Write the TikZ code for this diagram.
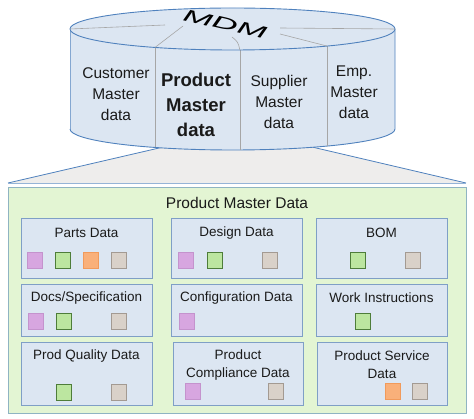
\documentclass[tikz,border=0pt]{standalone}
\usepackage{fontspec}
\setmainfont{Liberation Sans}
\usetikzlibrary{calc}
\definecolor{cylfill}{HTML}{DCE6F2}
\definecolor{cylline}{HTML}{4F81BD}
\definecolor{divcol}{HTML}{A6A6A6}
\definecolor{trapfill}{HTML}{EEEDEC}
\definecolor{pmdfill}{HTML}{E3F5D3}
\definecolor{pmdline}{HTML}{8FB4C2}
\definecolor{boxfill}{HTML}{DCE6F2}
\definecolor{boxline}{HTML}{7F9FC6}
\definecolor{sqpurple}{HTML}{D7A6E0}
\definecolor{sqpurpleb}{HTML}{C493CD}
\definecolor{sqgreen}{HTML}{BCE6A0}
\definecolor{sqgreenb}{HTML}{4E7D3A}
\definecolor{sqorange}{HTML}{F9B07A}
\definecolor{sqorangeb}{HTML}{F19A5B}
\definecolor{sqgray}{HTML}{D9D1C9}
\definecolor{sqgrayb}{HTML}{A39A92}
\definecolor{txt}{HTML}{1A1A1A}
\begin{document}
\begin{tikzpicture}[x=1pt,y=-1pt,
  cyltext/.style={align=center, text=txt, font=\fontsize{15.5}{21}\selectfont, inner sep=0pt},
  boldtext/.style={align=center, text=txt, font=\fontsize{18.5}{25}\selectfont\bfseries, inner sep=0pt},
  divline/.style={draw=divcol, line width=0.6pt},
  databox/.style={draw=boxline, fill=boxfill, line width=0.8pt, minimum width=131pt, inner sep=0pt},
  boxlabel/.style={align=center, text=txt, font=\fontsize{13.5}{18}\selectfont, inner sep=0pt},
  sq/.style={minimum width=14.5pt, minimum height=16pt, inner sep=0pt, line width=0.6pt},
  purple/.style={sq, fill=sqpurple, draw=sqpurpleb},
  green/.style={sq, fill=sqgreen, draw=sqgreenb},
  orange/.style={sq, fill=sqorange, draw=sqorangeb},
  grey/.style={sq, fill=sqgray, draw=sqgrayb},
]
\useasboundingbox (0,0) rectangle (474,419);

% cylinder centres
\coordinate (tc) at (232.5,29);
\coordinate (bc) at (232.5,129);

% trapezoid (zoom funnel)
\coordinate (tl) at ($(bc)+(243.5:162.5pt and 21pt)$);
\coordinate (tr) at ($(bc)+(299.7:162.5pt and 21pt)$);
\coordinate (fl) at (8,183);
\coordinate (fr) at (466,183);
\fill[trapfill] (tl) -- (fl) -- (fr) -- (tr) -- cycle;
\draw[cylline, line width=0.8pt] (tl) -- (fl);
\draw[cylline, line width=0.8pt] (tr) -- (fr);
\draw[cylline!60, line width=0.6pt] (fl) -- (fr);

% cylinder body
\fill[cylfill] (70,29) -- (70,129) arc[start angle=180, end angle=360, x radius=162.5pt, y radius=21pt] -- (395,29) -- cycle;
\draw[cylline!70, line width=0.6pt] (70,29) -- (70,129);
\draw[cylline, line width=0.9pt] (70,129) arc[start angle=180, end angle=360, x radius=162.5pt, y radius=21pt] -- (395,29);

% side dividers
\foreach \a/\n in {241.5/1, 272.6/2, 305.6/3}{
  \coordinate (dt\n) at ($(tc)+(\a:162.5pt and 21pt)$);
  \coordinate (db\n) at ($(bc)+(\a:162.5pt and 21pt)$);
  \draw[divline] (dt\n) -- (db\n);
}

% top ellipse
\draw[cylline, line width=0.9pt, fill=cylfill] (tc) ellipse[x radius=162.5pt, y radius=21pt];

% lines on the top surface
\coordinate (el) at (70,29);
\coordinate (er) at (395,29);
\coordinate (m1) at (165,25);
\coordinate (m2) at (183,26);
\coordinate (m3) at (232,37);
\coordinate (m4) at (280,34);
\coordinate (m5) at (280,28);
\draw[divline] (el) -- (m1);
\draw[divline] (dt1) -- (m2);
\draw[divline] (dt2) .. controls (238,42) .. (m3);
\draw[divline] (dt3) -- (m4);
\draw[divline] (er) -- (m5);

\node (mdm) [rotate=-13, xscale=2.1, text=black, font=\fontsize{17}{17}\selectfont\itshape, inner sep=0pt] at (225,24) {MDM};

% side texts
\node (cust) [cyltext] at (116,94) {Customer\\Master\\data};
\node (prod) [boldtext] at (196,105) {Product\\Master\\data};
\node (supp) [cyltext] at (279,102) {Supplier\\Master\\data};
\node (emp) [cyltext] at (354,92) {Emp.\\Master\\data};

% product master data panel
\node (pmd) [draw=pmdline, fill=pmdfill, line width=0.9pt, anchor=north west, minimum width=458pt, minimum height=226pt, inner sep=0pt] at (8,187) {};
\node (pmdtitle) [text=txt, font=\fontsize{15.5}{18}\selectfont, inner sep=0pt] at (237,203) {Product Master Data};

% row 1
\node (parts) [databox, minimum height=60pt] at (86.5,248) {};
\node (design) [databox, minimum height=60pt] at (236.5,248) {};
\node (bom) [databox, minimum height=60pt] at (381.5,248) {};
% row 2
\node (docs) [databox, minimum height=52pt] at (86.5,310) {};
\node (config) [databox, minimum height=52pt] at (236.5,310) {};
\node (work) [databox, minimum height=52pt] at (381.5,310) {};
% row 3
\node (qual) [databox, minimum height=63pt] at (86.5,373.5) {};
\node (compl) [databox, minimum height=63pt, minimum width=130pt] at (238,373.5) {};
\node (serv) [databox, minimum height=63pt, minimum width=130pt] at (382,373.5) {};

% labels
\node (partsL) [boxlabel] at (86.5,233) {Parts Data};
\node (designL) [boxlabel] at (236.5,233) {Design Data};
\node (bomL) [boxlabel] at (381.5,233) {BOM};
\node (docsL) [boxlabel] at (86.5,298) {Docs/Specification};
\node (configL) [boxlabel] at (236.5,298) {Configuration Data};
\node (workL) [boxlabel] at (381.5,298) {Work Instructions};
\node (qualL) [boxlabel] at (86.5,356) {Prod Quality Data};
\node (complL) [boxlabel] at (238,365) {Product\\Compliance Data};
\node (servL) [boxlabel] at (382,365) {Product Service\\Data};

% squares row 1
\node (p1) [purple] at (35,260) {};
\node (p2) [green] at (63,260) {};
\node (p3) [orange] at (91,260) {};
\node (p4) [grey] at (119,260) {};
\node (d1) [purple] at (186,260) {};
\node (d2) [green] at (215,260) {};
\node (d3) [grey] at (270,260) {};
\node (b1) [green] at (358,260) {};
\node (b2) [grey] at (413,260) {};
% squares row 2
\node (s1) [purple] at (36,321) {};
\node (s2) [green] at (64,321) {};
\node (s3) [grey] at (119,321) {};
\node (c1) [purple] at (187,321) {};
\node (w1) [green] at (363,321) {};
% squares row 3
\node (q1) [green] at (64,392) {};
\node (q2) [grey] at (119,392) {};
\node (k1) [purple] at (193,391) {};
\node (k2) [grey] at (276,391) {};
\node (v1) [orange] at (393,391) {};
\node (v2) [grey] at (420,391) {};
\end{tikzpicture}
\end{document}
